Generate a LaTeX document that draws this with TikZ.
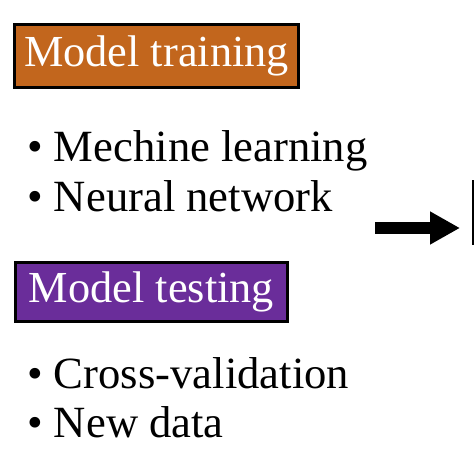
\documentclass[tikz,border=0pt]{standalone}
\usepackage{fontspec}
\setmainfont{Liberation Serif}
\usetikzlibrary{arrows.meta}
\definecolor{trainorange}{HTML}{C2661D}
\definecolor{testpurple}{HTML}{6A2D9A}
\begin{document}
\begin{tikzpicture}[x=1bp,y=-1bp,
  headbox/.style={draw=black,line width=3bp,inner sep=0pt,text=white,
    font=\fontsize{44.5}{50}\selectfont},
  item/.style={anchor=base west,inner sep=0pt,font=\fontsize{44.8}{50}\selectfont},
  bigarrow/.style={line width=11bp,-{Triangle[length=30bp,width=31bp]}}]
\useasboundingbox (0,0) rectangle (474,474);
\node[headbox,fill=trainorange,minimum width=284bp,minimum height=63bp] (train) at (156.5,56) {Model training};
\node[item] (ml) at (27,162) {• Mechine learning};
\node[item] (nn) at (27,212) {• Neural network};
\node[headbox,fill=testpurple,minimum width=272bp,minimum height=59bp] (test) at (151.5,292) {Model testing};
\node[item] (cv) at (27,388) {• Cross-validation};
\node[item] (nd) at (27,437) {• New data};
\coordinate (arrowstart) at (375,228);
\coordinate (arrowend) at (460,228);
\draw[bigarrow] (arrowstart) -- (arrowend);
\coordinate (bartop) at (473,180);
\coordinate (barbot) at (473,245);
\draw[line width=3bp] (bartop) -- (barbot);
\end{tikzpicture}
\end{document}
